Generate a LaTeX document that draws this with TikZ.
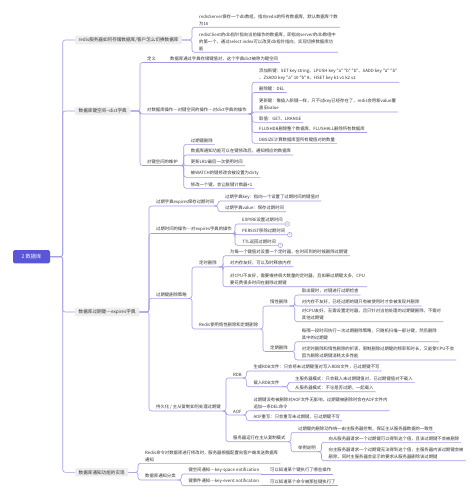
\documentclass[tikz,border=0pt]{standalone}
\usepackage{fontspec}
\newfontfamily\cjk{Noto Sans CJK SC}
\definecolor{lc}{HTML}{A09DE6}
\definecolor{rootc}{HTML}{5A56D8}
\definecolor{tc}{HTML}{333333}
\newcommand\dsh{-\kern0pt-\kern0pt-}
\newcommand\dd{-\kern0pt-}
\newcommand\lr[1]{\draw[ln] (root.east) -| ([xshift=-12.3pt]#1.west) -- (#1.west);}
\newcommand\lb[2]{\draw[ln] (#1.east) -| ([xshift=-7pt]#2.south west) -- ([xshift=2pt]#2.south east);}
\newcommand\lk[2]{\draw[ln] ([xshift=2pt]#1.south east) -| ([xshift=-7pt]#2.south west) -- ([xshift=2pt]#2.south east);}
\newcommand\ls[2]{\draw[ln] ([xshift=2pt]#1.south east) -- ([xshift=2pt]#2.south east);}
\begin{document}
\begin{tikzpicture}[x=1pt,y=-1pt,
  ln/.style={draw=lc, line width=0.6pt, rounded corners=2.5pt},
  t/.style={anchor=south west, inner xsep=0pt, inner ysep=1.6pt, align=left, text=tc, font=\cjk\fontsize{4.35}{7}\selectfont},
  l1/.style={anchor=west, fill=gray!13, rounded corners=1pt, inner xsep=3.5pt, inner ysep=2pt, text=tc, font=\cjk\fontsize{4.6}{5}\selectfont},
  rootbox/.style={fill=rootc, text=white, rounded corners=1.5pt, minimum width=37pt, minimum height=13.3pt, inner sep=0pt, font=\cjk\fontsize{5.2}{6}\selectfont},
  mk/.style={circle, draw=lc, line width=0.5pt, fill=white, inner sep=0pt, minimum size=4.6pt, text=lc, font=\cjk\fontsize{3}{3}\selectfont}]
\useasboundingbox (0,0) rectangle (474,500);
\fill[white] (0,0) rectangle (474,500);

\node[rootbox] (root) at (31.5,256.7) {2 数据库};

\node[l1] (A) at (75,40) {redis服务器如何存储数据库/客户怎么切换数据库};
\node[l1] (B) at (75,111) {数据库键空间\dd dict字典};
\node[l1] (C) at (75,312) {数据库过期键\dsh expires字典};
\node[l1] (D) at (75,472.3) {数据库通知功能的实现};

% A
\node[t] (a1) at (199,27.3) {redisServer保存一个db数组，指向redis的所有数据库，默认数据库个数\\为16};
\node[t] (a2) at (199,52.3) {redisClient的db指针指向当前操作的数据库，即指向server的db数组中\\的第一个，通过select index可以改变db指针指向，实现切换数据库功\\能};

% B
\node[t] (b1) at (147,62.5) {定义};
\node[t] (b1c) at (170,62.5) {数据库通过字典存储键值对，这个字典dict被称为键空间};
\node[t] (b2) at (147,114) {对数据库操作\dsh 对键空间的操作\dsh 对dict字典的操作};
\node[t] (b2a) at (259,82.3) {添加新键：SET key string、LPUSH key "a" "b" "b"、SADD key "a" "b"\\、ZSADD key "a" 10 "b" 8、HSET key k1 v1 k2 v2};
\node[t] (b2b) at (259,92.5) {删除键：DEL};
\node[t] (b2c) at (259,112) {更新键：像插入新键一样，只不过key已经存在了，redis会用新value覆\\盖旧value};
\node[t] (b2d) at (259,122.3) {取值：GET、LRANGE};
\node[t] (b2e) at (259,132.5) {FLUSHDB删除整个数据库，FLUSHALL删除所有数据库};
\node[t] (b2f) at (259,143.3) {DBSIZE计算数据库里所有键值对的数量};
\node[t] (b3) at (147,165.5) {对键空间的维护};
\node[t] (b3a) at (190.7,144.3) {过期键删除};
\node[t] (b3b) at (190.7,155) {数据库通知功能可以在键修改后，通知相应的数据库};
\node[t] (b3c) at (190.7,165.7) {更新LRU最后一次使用时间};
\node[t] (b3d) at (190.7,177.3) {被WATCH的键修改会被设置为dirty};
\node[t] (b3e) at (190.7,188.3) {修改一个键，会让脏键计数器+1};

% C
\node[t] (c1) at (156,206) {过期字典expires保存过期时间};
\node[t] (c1a) at (225,201) {过期字典key：指向一个设置了过期时间的键值对};
\node[t] (c1b) at (225,211.7) {过期字典value：保存过期时间};
\node[t] (c2) at (156,233.5) {过期时间的操作\dsh 对expires字典的操作};
\node[t] (c2a) at (242,224) {EXPIRE设置过期时间};
\node[t] (c2b) at (242,234.7) {PERSIST移除过期时间};
\node[t] (c2c) at (242,245.3) {TTL返回过期时间};
\node[t] (c3) at (156,298.3) {过期键删除策略};
\node[t] (c3a) at (199,267) {定时删除};
\node[t] (t1) at (230,255.7) {为每一个键值对设置一个定时器，在时间到的时候删除过期键};
\node[t] (t2) at (230,266.7) {对内存友好，可以及时释放内存};
\node[t] (t3) at (230,286.7) {对CPU不友好，需要维持很大数量的定时器，且如果过期键太多，CPU\\要花费很多时间在删除过期键};
\node[t] (c3b) at (199,329) {Redis使用惰性删除和定期删除};
\node[t] (lz) at (270,306) {惰性删除};
\node[t] (lz1) at (301.7,295) {取出键时，对键进行过期检查};
\node[t] (lz2) at (301.7,306) {对内存不友好，已经过期的键只有被使用时才会被发现并删除};
\node[t] (lz3) at (301.7,321.7) {对CPU友好，无需设置定时器，且只针对当前处理的过期键删除，不需对\\其他过期键};
\node[t] (dq) at (270,351.5) {定期删除};
\node[t] (dq1) at (301.7,341.7) {每隔一段时间执行一次过期删除策略，只随机扫描一部分键，然后删除\\其中的过期键};
\node[t] (dq2) at (301.7,360) {对定时删除和惰性删除的折衷，限制删除过期键的频率和时长，又能使CPU不会\\因为删除过期键消耗太多性能};
\node[t] (c4) at (156,411) {持久化 / 主从复制如何处理过期键};
\node[t] (rdb) at (233,378) {RDB};
\node[t] (rdb1) at (253.3,371) {生成RDB文件：只会将未过期键值对写入RDB文件，已过期键不写};
\node[t] (rdb2) at (253.3,386.7) {载入RDB文件};
\node[t] (rdb2a) at (295,382.3) {主服务器模式：只会载入未过期键值对，已过期键值对不载入};
\node[t] (rdb2b) at (295,391.7) {从服务器模式：不论是否过期，一起载入};
\node[t] (aof) at (233,415) {AOF};
\node[t] (aof1) at (253.3,410.7) {过期键没有被删除对AOF文件无影响，过期键被删除时会在AOF文件内\\追加一条DEL命令};
\node[t] (aof2) at (253.3,420.7) {AOF重写：只会重写未过期键，已过期键不写};
\node[t] (ms) at (233,441.7) {服务器运行在主从复制模式};
\node[t] (ms1) at (298,432.3) {过期键的删除动作统一由主服务器控制，保证主从服务器数据的一致性};
\node[t] (ms2) at (298,451.7) {举例说明};
\node[t] (ms2a) at (328.5,442.3) {向从服务器请求一个过期键可以得到这个值，且该过期键不会被删除};
\node[t] (ms2b) at (328.5,460.7) {向主服务器请求一个过期键无法得到这个值，主服务器内该过期键会被\\删除，同时主服务器会显示的要求从服务器删除该过期键};

% D
\node[t] (d1) at (145,463.3) {Redis命令对数据库进行修改时，服务器根据配置向客户端发送数据库\\通知};
\node[t] (d2) at (145,480) {数据库通知分类};
\node[t] (d2a) at (188.3,474) {键空间通知\dsh key-space notification};
\node[t] (d2a1) at (270,474) {可以知道某个键执行了哪些操作};
\node[t] (d2b) at (188.3,485.7) {键事件通知\dsh key-event notification};
\node[t] (d2b1) at (270,485.7) {可以知道某个命令被那些键执行了};

% connectors
\lr{A}\lr{B}\lr{C}\lr{D}
\lb{A}{a1}\lb{A}{a2}
\lb{B}{b1}\lb{B}{b2}\lb{B}{b3}
\ls{b1}{b1c}
\lk{b2}{b2a}\lk{b2}{b2b}\lk{b2}{b2c}\lk{b2}{b2d}\lk{b2}{b2e}\lk{b2}{b2f}
\lk{b3}{b3a}\lk{b3}{b3b}\lk{b3}{b3c}\lk{b3}{b3d}\lk{b3}{b3e}
\lb{C}{c1}\lb{C}{c2}\lb{C}{c3}\lb{C}{c4}
\lk{c1}{c1a}\lk{c1}{c1b}
\lk{c2}{c2a}\lk{c2}{c2b}\lk{c2}{c2c}
\lk{c3}{c3a}\lk{c3}{c3b}
\lk{c3a}{t1}\lk{c3a}{t2}\lk{c3a}{t3}
\lk{c3b}{lz}\lk{c3b}{dq}
\lk{lz}{lz1}\lk{lz}{lz2}\lk{lz}{lz3}
\lk{dq}{dq1}\lk{dq}{dq2}
\lk{c4}{rdb}\lk{c4}{aof}\lk{c4}{ms}
\lk{rdb}{rdb1}\lk{rdb}{rdb2}\lk{rdb2}{rdb2a}\lk{rdb2}{rdb2b}
\lk{aof}{aof1}\lk{aof}{aof2}
\lk{ms}{ms1}\lk{ms}{ms2}\lk{ms2}{ms2a}\lk{ms2}{ms2b}
\lb{D}{d1}\lb{D}{d2}
\lk{d2}{d2a}\lk{d2}{d2b}
\ls{d2a}{d2a1}\ls{d2b}{d2b1}

% collapse markers
\node[mk] (k1) at ([xshift=4.3pt]c2a.south east) {4};
\node[mk] (k2) at ([xshift=4.3pt]c2b.south east) {3};
\node[mk] (k3) at ([xshift=4.3pt]c2c.south east) {2};
\end{tikzpicture}
\end{document}
